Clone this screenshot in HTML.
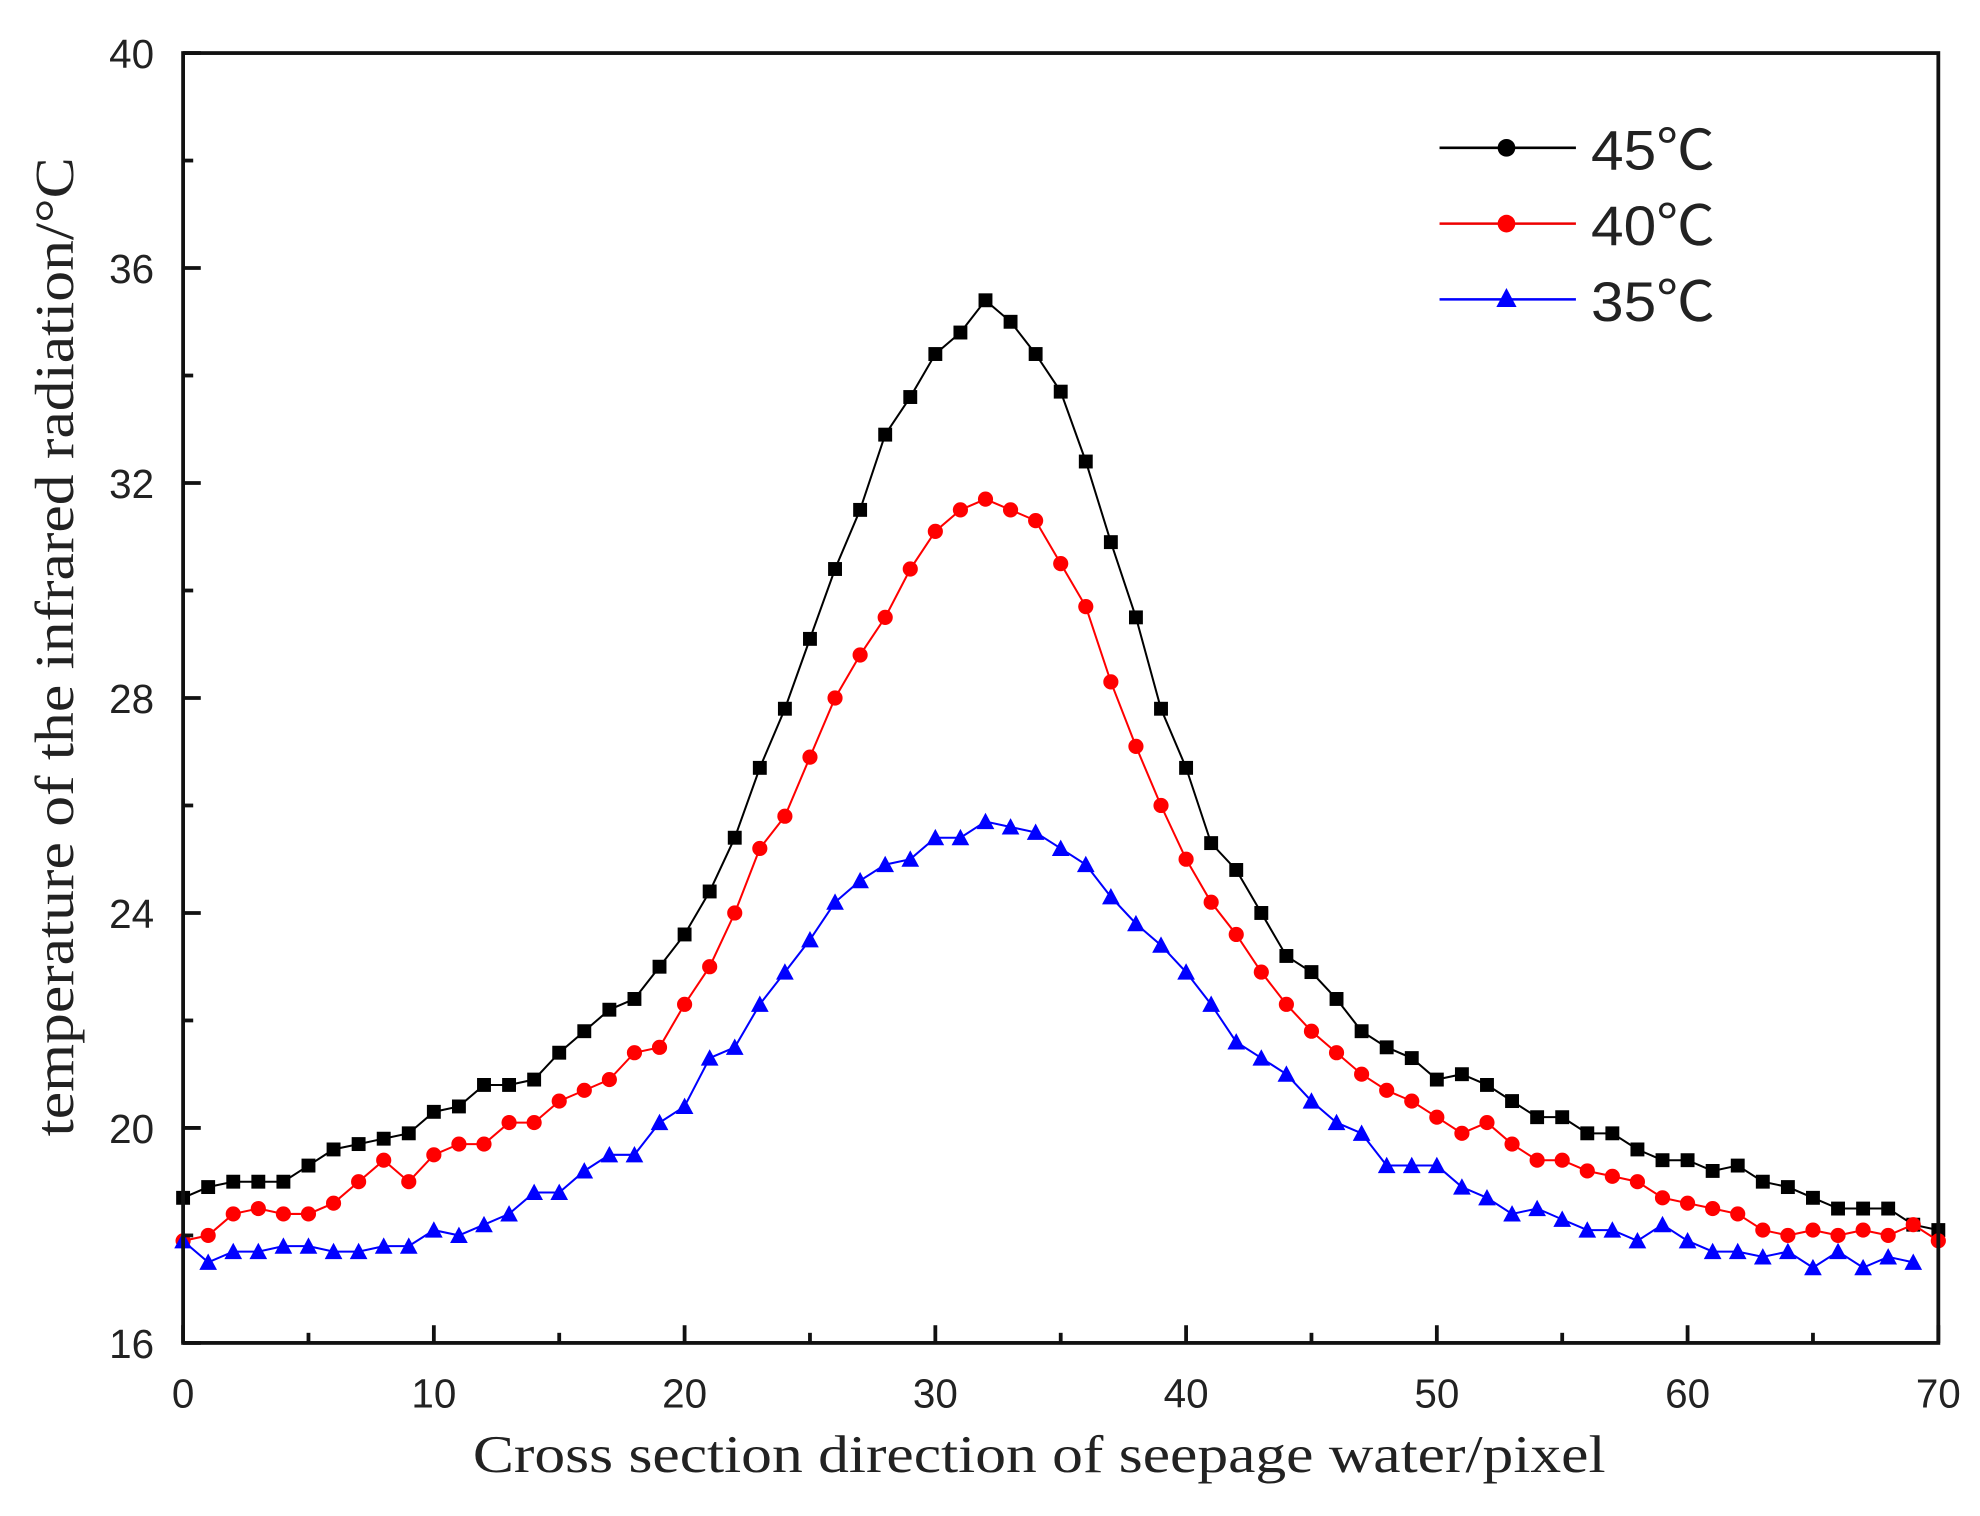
<!DOCTYPE html>
<html><head><meta charset="utf-8"><style>html,body{margin:0;padding:0;background:#fff}svg{display:block}</style></head>
<body>
<svg id="s" width="1980" height="1516" viewBox="0 0 1568 1200" preserveAspectRatio="none" xmlns="http://www.w3.org/2000/svg">
<rect width="1568" height="1200" fill="#fff"/>
<g id="g"></g>
<text x="823" y="1165" font-family="Liberation Serif, serif" font-size="42" textLength="897" lengthAdjust="spacingAndGlyphs" text-anchor="middle" fill="#222">Cross section direction of seepage water/pixel</text>
<text transform="translate(58,512) rotate(-90)" font-family="Liberation Serif, serif" font-size="44" textLength="775" lengthAdjust="spacingAndGlyphs" text-anchor="middle" fill="#222">temperature of the infrared radiation/°C</text>
<line x1="1140" y1="117" x2="1248" y2="117" stroke="#000" stroke-width="2"/><circle cx="1193" cy="117" r="7" fill="#000"/>
<line x1="1140" y1="177" x2="1248" y2="177" stroke="#e00" stroke-width="2"/><circle cx="1193" cy="177" r="7" fill="#f00"/>
<line x1="1140" y1="237" x2="1248" y2="237" stroke="#00f" stroke-width="2"/><polygon points="1193,228 1201,243 1185,243" fill="#00f"/>
<g font-family="Liberation Sans, 'Noto Sans CJK SC', sans-serif" font-size="44" fill="#222">
<text x="1260" y="134" textLength="98" lengthAdjust="spacingAndGlyphs">45℃</text><text x="1260" y="194" textLength="98" lengthAdjust="spacingAndGlyphs">40℃</text><text x="1260" y="254" textLength="98" lengthAdjust="spacingAndGlyphs">35℃</text></g>
</svg>
<script>
var B=[18.7,18.9,19.0,19.0,19.0,19.3,19.6,19.7,19.8,19.9,20.3,20.4,20.8,20.8,20.9,21.4,21.8,22.2,22.4,23.0,23.6,24.4,25.4,26.7,27.8,29.1,30.4,31.5,32.9,33.6,34.4,34.8,35.4,35.0,34.4,33.7,32.4,30.9,29.5,27.8,26.7,25.3,24.8,24.0,23.2,22.9,22.4,21.8,21.5,21.3,20.9,21.0,20.8,20.5,20.2,20.2,19.9,19.9,19.6,19.4,19.4,19.2,19.3,19.0,18.9,18.7,18.5,18.5,18.5,18.2,18.1];
var R=[17.9,18.0,18.4,18.5,18.4,18.4,18.6,19.0,19.4,19.0,19.5,19.7,19.7,20.1,20.1,20.5,20.7,20.9,21.4,21.5,22.3,23.0,24.0,25.2,25.8,26.9,28.0,28.8,29.5,30.4,31.1,31.5,31.7,31.5,31.3,30.5,29.7,28.3,27.1,26.0,25.0,24.2,23.6,22.9,22.3,21.8,21.4,21.0,20.7,20.5,20.2,19.9,20.1,19.7,19.4,19.4,19.2,19.1,19.0,18.7,18.6,18.5,18.4,18.1,18.0,18.1,18.0,18.1,18.0,18.2,17.9];
var U=[17.9,17.5,17.7,17.7,17.8,17.8,17.7,17.7,17.8,17.8,18.1,18.0,18.2,18.4,18.8,18.8,19.2,19.5,19.5,20.1,20.4,21.3,21.5,22.3,22.9,23.5,24.2,24.6,24.9,25.0,25.4,25.4,25.7,25.6,25.5,25.2,24.9,24.3,23.8,23.4,22.9,22.3,21.6,21.3,21.0,20.5,20.1,19.9,19.3,19.3,19.3,18.9,18.7,18.4,18.5,18.3,18.1,18.1,17.9,18.2,17.9,17.7,17.7,17.6,17.7,17.4,17.7,17.4,17.6,17.5];
function X(v){return 145+v*1390/70}function Y(v){return 1063-(v-16)*1021/24}
var h='';
function ser(d,c,m){var p=d.map(function(v,i){return X(i).toFixed(1)+','+Y(v).toFixed(1)}).join(' ');
h+='<polyline points="'+p+'" fill="none" stroke="'+c+'" stroke-width="1.6"/>';
d.forEach(function(v,i){var x=X(i),y=Y(v);
if(m=='s')h+='<rect x="'+(x-5.5)+'" y="'+(y-5.5)+'" width="11" height="11" fill="'+c+'"/>';
else if(m=='c')h+='<circle cx="'+x+'" cy="'+y+'" r="6" fill="'+c+'"/>';
else h+='<polygon points="'+x+','+(y-7)+' '+(x+7)+','+(y+6)+' '+(x-7)+','+(y+6)+'" fill="'+c+'"/>';});}
ser(B,'#000','s');ser(R,'#f00','c');ser(U,'#00f','t');
h+='<rect x="145" y="42" width="1390" height="1021" fill="none" stroke="#111" stroke-width="3"/>';
var f='font-family="Liberation Sans, sans-serif" font-size="32" fill="#222"';
for(var i=0;i<=70;i+=5){var x=X(i),L=i%10?8:14;h+='<line x1="'+x+'" y1="1063" x2="'+x+'" y2="'+(1063-L)+'" stroke="#111" stroke-width="3"/>';
if(i%10==0)h+='<text x="'+x+'" y="1114" text-anchor="middle" '+f+'>'+i+'</text>';}
for(var v=16;v<=40;v+=2){var y=Y(v),L=v%4?8:14;h+='<line x1="145" y1="'+y+'" x2="'+(145+L)+'" y2="'+y+'" stroke="#111" stroke-width="3"/>';
if(v%4==0)h+='<text x="122" y="'+(y+12)+'" text-anchor="end" '+f+'>'+v+'</text>';}
document.getElementById('g').innerHTML=h;
</script>
</body></html>
